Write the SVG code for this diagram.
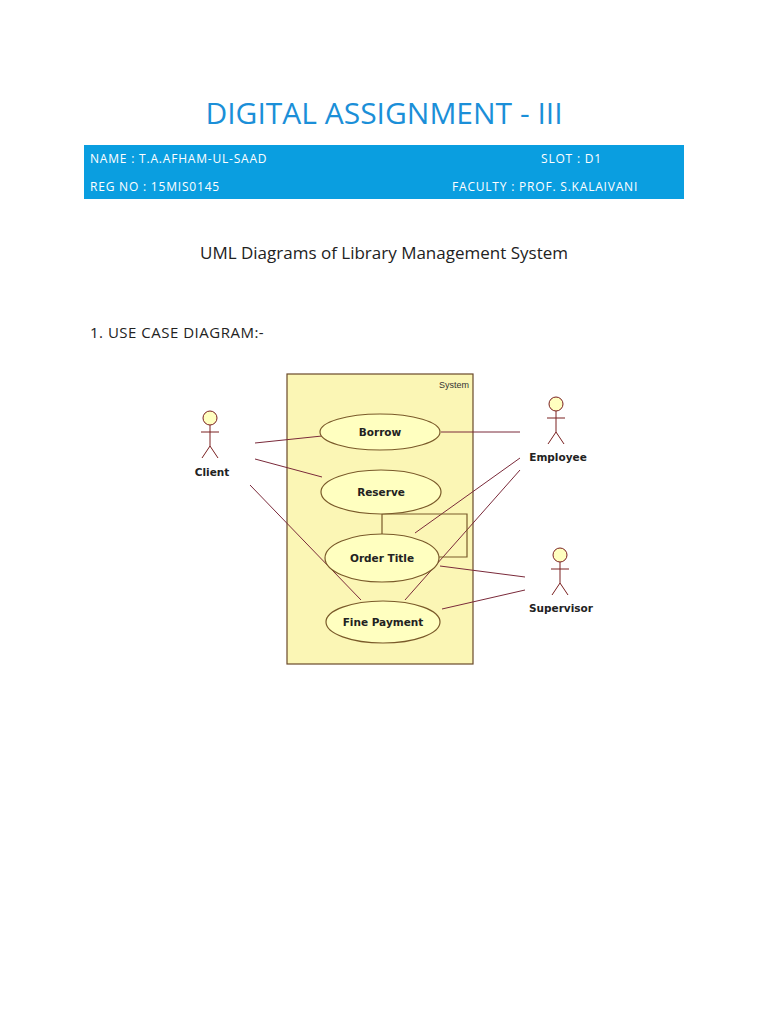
<svg xmlns="http://www.w3.org/2000/svg" width="768" height="1024" viewBox="0 0 768 1024">
<style>
.h{font-family:"Open Sans","Liberation Sans",sans-serif;fill:#fff;font-size:12px;letter-spacing:0.8px}
.uc{fill:#ffffc0;stroke:#7a5a2a;stroke-width:1.2}
.ul{font-family:"DejaVu Sans",sans-serif;font-weight:bold;font-size:10.5px;fill:#222;text-anchor:middle}
.act{fill:none;stroke:#7a2020;stroke-width:1}
.ln{stroke:#7a2a3a;stroke-width:1;fill:none}
</style>
<rect width="768" height="1024" fill="#fff"/>
<text x="384" y="124" text-anchor="middle" font-family="Open Sans,Liberation Sans,sans-serif" font-size="30" fill="#1b8fd8">DIGITAL ASSIGNMENT - III</text>
<rect x="84" y="145" width="600" height="54" fill="#0a9ee0"/>
<text class="h" x="90" y="163">NAME : T.A.AFHAM-UL-SAAD</text>
<text class="h" x="541" y="163">SLOT : D1</text>
<text class="h" x="90" y="191">REG NO : 15MIS0145</text>
<text class="h" x="452" y="191">FACULTY : PROF. S.KALAIVANI</text>
<text x="384" y="259" text-anchor="middle" font-family="Open Sans,Liberation Sans,sans-serif" font-size="17" fill="#222">UML Diagrams of Library Management System</text>
<text x="90" y="338" font-family="Open Sans,Liberation Sans,sans-serif" font-size="15" fill="#222" letter-spacing="0.5">1. USE CASE DIAGRAM:-</text>
<g id="system"><rect x="287" y="374" width="186" height="290" fill="#fbf6b5" stroke="#6a4a2a" stroke-width="1.2"/>
<text x="469" y="388" text-anchor="end" font-family="Liberation Sans,sans-serif" font-size="9" fill="#333">System</text></g>
<g id="connectors">
<line class="ln" x1="255" y1="443" x2="322" y2="436"/>
<line class="ln" x1="255" y1="459" x2="322" y2="477"/>
<line class="ln" x1="250" y1="485" x2="361" y2="600"/>
<line class="ln" x1="441" y1="432" x2="520" y2="432"/>
<line class="ln" x1="520" y1="458" x2="415" y2="533"/>
<line class="ln" x1="520" y1="470" x2="405" y2="600"/>
<line class="ln" x1="440" y1="566" x2="525" y2="577"/>
<line class="ln" x1="525" y1="590" x2="442" y2="609"/>
<polyline fill="none" stroke="#7a5a2a" stroke-width="1.2" points="382,514 382,534"/>
<polyline fill="none" stroke="#7a5a2a" stroke-width="1.2" points="382,514 467,514 467,557 438,557"/>
</g>
<g id="borrow"><ellipse class="uc" cx="380" cy="432" rx="60" ry="18"/><text class="ul" x="380" y="436">Borrow</text></g>
<g id="reserve"><ellipse class="uc" cx="381" cy="492" rx="60" ry="22"/><text class="ul" x="381" y="496">Reserve</text></g>
<g id="order"><ellipse class="uc" cx="382" cy="558" rx="57" ry="24"/><text class="ul" x="382" y="562">Order Title</text></g>
<g id="fine"><ellipse class="uc" cx="383" cy="622" rx="57" ry="21"/><text class="ul" x="383" y="626">Fine Payment</text></g>
<g id="client"><circle cx="210" cy="418" r="7" fill="#ffffc0" stroke="#7a2020"/><path class="act" d="M210 425V446M201 432H219M210 446L202 458M210 446L218 458"/><text class="ul" x="212" y="476">Client</text></g>
<g id="employee"><circle cx="556" cy="404" r="7" fill="#ffffc0" stroke="#7a2020"/><path class="act" d="M556 411V432M547 418H565M556 432L548 444M556 432L564 444"/><text class="ul" x="558" y="461">Employee</text></g>
<g id="supervisor"><circle cx="560" cy="555" r="7" fill="#ffffc0" stroke="#7a2020"/><path class="act" d="M560 562V583M551 569H569M560 583L552 595M560 583L568 595"/><text class="ul" x="561" y="612">Supervisor</text></g>
</svg>
